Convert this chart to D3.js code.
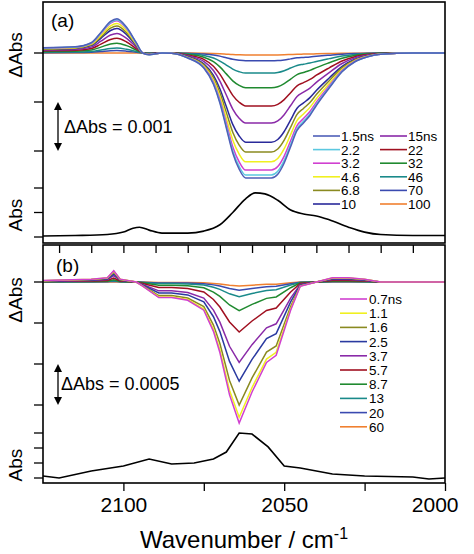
<!DOCTYPE html>
<html><head><meta charset="utf-8">
<script src="https://cdn.jsdelivr.net/npm/d3@7"></script>
<style>body{margin:0;background:#fff}text{font-family:Arial,"Liberation Sans",sans-serif}</style>
</head><body>
<svg id="chart" width="474" height="554"></svg>
<script>
// panel (a): wavenumber grid, normalised bleach and positive band shapes, static Abs
var wnA    = [2125,2115,2110,2107,2104,2102,2099,2096,2094,2092,2088,2085,2080,2075,2072,2070,2068,2066,2064,2062,2058,2054,2052,2050,2048,2046,2044,2042,2040,2036,2032,2028,2024,2020,2010,2000];
var bleachA= [0,0,0,0,0,0,0,0,0,0,0,-0.01,-0.04,-0.12,-0.25,-0.4,-0.6,-0.8,-0.93,-1,-1,-1,-0.97,-0.88,-0.75,-0.62,-0.56,-0.5,-0.42,-0.28,-0.15,-0.07,-0.03,-0.01,0,0];
var posA   = [0.15,0.18,0.3,0.6,0.92,1,0.75,0.3,0,-0.05,0,0.03,0,0,0,0,0,0,0,0,0,0,0,0,0,0,0,0,0,0,0,0,0,0,0,0];
var absWnA = [2125,2115,2105,2100,2097,2095,2092,2088,2080,2075,2070,2066,2062,2059,2056,2052,2048,2044,2040,2036,2030,2025,2020,2010,2000];
var absA   = [0.02,0.03,0.05,0.1,0.18,0.2,0.14,0.08,0.08,0.12,0.25,0.5,0.78,0.9,0.88,0.75,0.55,0.47,0.43,0.35,0.2,0.1,0.05,0.03,0.03];
var labelsA = ["1.5ns","2.2","3.2","4.6","6.8","10","15ns","22","32","46","70","100"];
var depthA  = [2.55,2.49,2.39,2.22,2.02,1.82,1.43,1.08,0.71,0.41,0.16,0.04];   // mAbs
var peakA   = [0.70,0.68,0.66,0.60,0.55,0.50,0.40,0.30,0.20,0.10,0.05,0.0];
var colorsA = ["#4f5fb8","#5bc8e0","#d040d0","#f0f020","#8a8a20","#2a2a9a","#8a2aa8","#a01020","#208a30","#1a8a8a","#3a4ab0","#f08030"];

// panel (b)
var wnB    = [2125,2110,2105,2103,2101,2096,2094,2089,2085,2080,2075,2072,2070,2067,2064,2060,2055.5,2052.5,2048,2045,2040,2035,2030,2025,2020,2010,2000];
var bleachB= [0.01,0.02,0.03,0.08,0.02,0,-0.03,-0.11,-0.11,-0.13,-0.2,-0.35,-0.5,-0.8,-1,-0.78,-0.57,-0.52,-0.2,-0.03,0,0.03,0.03,0.02,0,0,0];
var absWnB = [2125,2120,2110,2100,2092,2085,2078,2072,2068,2064,2060,2055,2050,2045,2035,2025,2010,2005,2000];
var absB   = [0.13,0,0.47,0.8,1.27,0.93,1.0,1.27,1.73,3.0,2.93,2.07,0.8,0.67,0.27,0.13,0.07,-0.07,0];
var labelsB = ["0.7ns","1.1","1.6","2.5","3.7","5.7","8.7","13","20","60"];
var depthB  = [17.2,16.5,15,12.1,9.8,6.1,3.5,1.8,1.0,0.5];   // 1e-4 Abs
var colorsB = ["#d040d0","#f0f020","#8a8a20","#2a3aa0","#8a2aa8","#a01020","#208a30","#1a8a8a","#3a4ab0","#f08030"];

var svg = d3.select("#chart");
var x = d3.scaleLinear().domain([2125,2000]).range([43,445]);

var yA = d3.scaleLinear().domain([0,-1]).range([53,102]);
var yAbsA = d3.scaleLinear().domain([0,1]).range([237,188]);
var yB = d3.scaleLinear().domain([0,-5]).range([282,323]);
var yAbsB = d3.scaleLinear().domain([0,1]).range([478,463]);

function drawLine(pts, color, w){
  svg.append("path").datum(pts)
    .attr("fill","none").attr("stroke",color).attr("stroke-width",w||1.5)
    .attr("stroke-linejoin","round")
    .attr("d", d3.line().x(function(d){return x(d[0]);}).y(function(d){return d[1];}).curve(d3.curveMonotoneX));
}
function drawLinear(pts, color, w){
  svg.append("path").datum(pts)
    .attr("fill","none").attr("stroke",color).attr("stroke-width",w||1.5)
    .attr("d", d3.line().x(function(d){return x(d[0]);}).y(function(d){return d[1];}));
}

// (a) spectra, earliest drawn last
for(var i=colorsA.length-1;i>=0;i--){
  var pts = wnA.map(function(w,k){ return [w, yA(depthA[i]*bleachA[k] + peakA[i]*posA[k])]; });
  drawLine(pts, colorsA[i]);
}
drawLine(absWnA.map(function(w,k){return [w,yAbsA(absA[k])];}), "#000", 1.6);

// (b) spectra
for(var i=colorsB.length-1;i>=0;i--){
  var pts = wnB.map(function(w,k){ return [w, yB(depthB[i]*bleachB[k])]; });
  drawLinear(pts, colorsB[i]);
}
drawLinear(absWnB.map(function(w,k){return [w,yAbsB(absB[k])];}), "#000", 1.6);

// frames
svg.append("rect").attr("x",43).attr("y",2).attr("width",402).attr("height",241)
  .attr("fill","none").attr("stroke","#000").attr("stroke-width",1.6);
svg.append("rect").attr("x",43).attr("y",245).attr("width",402).attr("height",238)
  .attr("fill","none").attr("stroke","#000").attr("stroke-width",1.6);

function leftTicks(ys){
  ys.forEach(function(v){
    svg.append("line").attr("x1",34).attr("x2",43).attr("y1",v).attr("y2",v).attr("stroke","#000").attr("stroke-width",1.3);
  });
}
leftTicks([yA(0),yA(-1),yA(-2),yAbsA(1),yAbsA(0.5),yAbsA(0)]);
leftTicks([yB(0),yB(-5),yB(-10),yB(-15),yAbsB(3),yAbsB(2),yAbsB(1),yAbsB(0)]);

var gTop = svg.append("g").attr("transform","translate(0,245)");
gTop.call(d3.axisBottom(x).tickValues(d3.range(2120,2000,-10)).tickSize(8).tickFormat(""));
var gBot = svg.append("g").attr("transform","translate(0,483)");
gBot.call(d3.axisBottom(x).tickValues([2100,2075,2050,2025,2000]).tickSize(8)
  .tickFormat(function(d){ return d%50===0 ? d : ""; }));
svg.selectAll(".domain").remove();
svg.selectAll(".tick line").attr("stroke-width",1.3);
gBot.selectAll(".tick text").attr("font-size",21).attr("dy","0.85em").attr("font-family","Arial,Liberation Sans,sans-serif");
gBot.selectAll(".tick").filter(function(d){return d===2000;}).select("text").attr("text-anchor","end").attr("dx","13");

svg.append("text").attr("x",244).attr("y",548).attr("text-anchor","middle").attr("font-size",24)
  .html('Wavenumber / cm<tspan dy="-9" font-size="16">-1</tspan>');

function vtitle(t, cx, cy){
  svg.append("text").attr("transform","translate("+cx+","+cy+") rotate(-90)")
    .attr("text-anchor","middle").attr("font-size",19).text(t);
}
vtitle("\u0394Abs",22,55); vtitle("Abs",22,215);
vtitle("\u0394Abs",22,300); vtitle("Abs",22,465);

svg.append("text").attr("x",51).attr("y",27).attr("font-size",19).text("(a)");
svg.append("text").attr("x",56).attr("y",272).attr("font-size",19).text("(b)");

function arrow(xp, y1, y2){
  svg.append("line").attr("x1",xp).attr("x2",xp).attr("y1",y1+7).attr("y2",y2-7).attr("stroke","#000").attr("stroke-width",1.3);
  svg.append("path").attr("d","M"+(xp-4)+","+(y1+8)+"L"+xp+","+y1+"L"+(xp+4)+","+(y1+8)+"Z");
  svg.append("path").attr("d","M"+(xp-4)+","+(y2-8)+"L"+xp+","+y2+"L"+(xp+4)+","+(y2-8)+"Z");
}
arrow(58, yA(-1), yA(-2));
svg.append("text").attr("x",64).attr("y",133).attr("font-size",18).text("\u0394Abs = 0.001");
arrow(58, yB(-10), yB(-15));
svg.append("text").attr("x",61).attr("y",390).attr("font-size",18).text("\u0394Abs = 0.0005");

labelsA.forEach(function(l,i){
  var col = i<6 ? 0 : 1, row = i%6;
  var lx = col ? 380 : 313, ly = 136 + row*13.6;
  svg.append("line").attr("x1",lx).attr("x2",lx+27).attr("y1",ly).attr("y2",ly).attr("stroke",colorsA[i]).attr("stroke-width",1.6);
  svg.append("text").attr("x",lx+28).attr("y",ly+5).attr("font-size",13.5).text(l);
});
labelsB.forEach(function(l,i){
  var ly = 299 + i*14.2;
  svg.append("line").attr("x1",340).attr("x2",367).attr("y1",ly).attr("y2",ly).attr("stroke",colorsB[i]).attr("stroke-width",1.6);
  svg.append("text").attr("x",369).attr("y",ly+5).attr("font-size",13.5).text(l);
});
</script>
</body></html>
